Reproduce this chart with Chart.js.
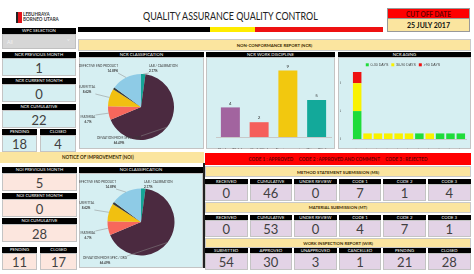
<!DOCTYPE html>
<html>
<head>
<meta charset="utf-8">
<script src="https://cdn.jsdelivr.net/npm/chart.js@4.4.0/dist/chart.umd.min.js"></script>
<style>
body { margin:0; width:474px; height:274px; background:#fff; position:relative; overflow:hidden; font-family: Lato, "Open Sans", sans-serif; }
.a { position:absolute; box-sizing:border-box; white-space:nowrap; }
.blk { background:#000; color:#fff; font-size:4.3px; text-align:center; }
.val { color:#404040; font-size:13px; text-align:center; border:1px solid #c4c4c4; }
.cy { background:#d6eff2; }
.pk { background:#fce6de; }
.lv { background:#e3d3e6; }
.yl { background:#fbe59f; border:1px solid #c9c9c9; color:#3a2a00; font-weight:bold; font-size:4.3px; text-align:center; }
canvas { position:absolute; }
</style>
</head>
<body>
<script>
// ---- data
var ncrBoxes = [1, 0, 22];          // previous month, current month, cumulative
var ncrPendClosed = [18, 4];
var noiBoxes = [5, 0, 28];
var noiPendClosed = [11, 17];

var subHeads = ["RECEIVED", "CUMULATIVE", "UNDER REVIEW", "CODE 1", "CODE 2", "CODE 3"];
var msValues = [0, 46, 0, 7, 1, 4];
var mtValues = [0, 53, 0, 4, 7, 1];
var wirHeads = ["SUBMITTED", "APPROVED", "UNAPPROVED", "CANCELLED", "PENDING", "CLOSED"];
var wirValues = [54, 30, 3, 1, 21, 28];

var classLabels = ["LAB / CALIBRATION", "DEVIATION FROM SPEC / DRG", "MATERIAL", "SUBMITTAL", "OTHERS", "DEFECTIVE END PRODUCT"];
var ncrShare = [2.17, 66.49, 6.7, 8.62, 1.13, 14.89];
var noiShare = [2.17, 66.49, 6.7, 8.62, 1.13, 14.89];

var discLabels = ["Bridge (Bdg)", "Civil (Civ)", ["Environment", "(Env)"], "Kting (Ktu)"];
var discValues = [4, 2, 9, 5];

var agingMonths = ["Sep-16", "Oct-16", "Nov-16", "Dec-16", "Jan-17", "Feb-17", "Mar-17", "Apr-17", "May-17", "Jun-17", "Jul-17"];
var aging0to30 = [5, 0, 0, 0, 0, 0, 1, 0, 1, 1, 1];
var aging30to90 = [5, 1, 1, 1, 1, 1, 0, 1, 0, 0, 0];
var agingOver90 = [2, 0, 0, 0, 0, 0, 0, 0, 0, 0, 0];

// ---- page blocks
function box(x, y, w, h, cls, txt, extra) {
    var d = document.createElement('div');
    d.className = 'a ' + cls;
    d.style.left = x + 'px'; d.style.top = y + 'px';
    d.style.width = w + 'px'; d.style.height = h + 'px';
    d.style.lineHeight = h + 'px';
    if (txt !== undefined) d.textContent = txt;
    if (extra) d.style.cssText += extra;
    document.body.appendChild(d);
    return d;
}
function fitW(el, w) {
    var s = w / el.scrollWidth;
    el.style.transformOrigin = 'left center';
    el.style.transform = 'scaleX(' + s + ')';
}

// header
box(16, 12, 2, 11, '', '', 'background:#222;');
box(18, 12, 3.5, 11, '', '', 'background:#e3141b;');
box(23, 11.5, 40, 5, '', 'LEBUHRAYA', 'font-size:4.6px;color:#333;font-weight:bold;');
box(23, 16.5, 40, 5, '', 'BORNEO UTARA', 'font-size:4.6px;color:#333;font-weight:bold;');
var t = box(143, 9, 200, 13, '', 'QUALITY ASSURANCE QUALITY CONTROL', 'font-size:11px;color:#222;width:auto;');
fitW(t, 175);
box(78, 27, 132, 4.5, '', '', 'background:#000;');
box(210, 27, 45, 4.5, '', '', 'background:#ffec00;');
box(255, 27, 128, 4.5, '', '', 'background:#ee1111;');
box(387, 8, 83, 11, '', 'CUT OFF DATE', 'background:#ff0000;color:#6a0000;font-weight:bold;font-size:6.5px;text-align:center;border:1px solid #999;');
box(387, 19, 83, 13, '', '25 JULY 2017', 'background:#fbe59f;color:#111;font-weight:bold;font-size:7px;text-align:center;border:1px solid #999;border-top:none;');

// left column NCR
box(2, 28, 74, 5.5, 'blk', 'WPC SELECTION');
box(2, 34, 74, 15, '', 'All', 'background:#d6d6d6;color:#f4f4f4;font-size:5px;padding-left:4px;border:1px solid #c0c0c0;');
box(67, 34, 8, 14, '', '\u02C5', 'color:#f4f4f4;font-size:6px;');
var ncrNames = ["NCR PREVIOUS MONTH", "NCR CURRENT MONTH", "NCR CUMULATIVE"];
var ncrTops = [52, 78, 104];
ncrTops.forEach(function(y, i) {
    box(2, y, 74, 5.5, 'blk', ncrNames[i]);
    box(2, y + 5.5, 74, 18, 'val cy', ncrBoxes[i]);
});
box(2, 129, 35, 5.5, 'blk', 'PENDING');
box(40, 129, 36, 5.5, 'blk', 'CLOSED');
box(2, 134.5, 35, 17, 'val cy', ncrPendClosed[0]);
box(40, 134.5, 36, 17, 'val cy', ncrPendClosed[1]);

// NCR section
box(78, 39, 393, 11.5, 'yl', 'NON-CONFORMANCE REPORT (NCR)');
box(79, 51.5, 125, 5.5, 'blk', 'NCR CLASSIFICATION');
box(206, 51.5, 129, 5.5, 'blk', 'NCR WORK DISCIPLINE');
box(338, 51.5, 133, 5.5, 'blk', 'NCR AGING');
box(79, 57, 125, 92, 'cy', '', 'border:1px solid #c4c4c4;');
box(206, 57, 129, 92, 'cy', '', 'border:1px solid #c4c4c4;');
box(338, 57, 133, 92, 'cy', '', 'border:1px solid #c4c4c4;');

// NOI section
box(0, 151.5, 204, 11.5, 'yl', '', 'border:none;');
box(62, 151.5, 110, 11.5, '', 'NOTICE OF IMPROVEMENT (NOI)', 'font-size:4.6px;font-weight:bold;color:#3a2a00;');
var noiNames = ["NOI PREVIOUS MONTH", "NOI CURRENT MONTH", "NOI CUMULATIVE"];
var noiTops = [167, 193, 218];
noiTops.forEach(function(y, i) {
    box(2, y, 75, 5.5, 'blk', noiNames[i]);
    box(2, y + 5.5, 75, 18, 'val pk', noiBoxes[i]);
});
box(2, 247, 35, 5.5, 'blk', 'PENDING');
box(40, 247, 37, 5.5, 'blk', 'CLOSED');
box(2, 252.5, 35, 17.5, 'val pk', noiPendClosed[0]);
box(40, 252.5, 37, 17.5, 'val pk', noiPendClosed[1]);
box(79, 167, 124, 6, 'blk', 'NOI CLASSIFICATION');
box(79, 173, 124, 95, 'cy', '', 'border:1px solid #c4c4c4;');
box(203, 163, 1.5, 105, '', '', 'background:#222;');

// submissions
box(205, 153, 266, 12, '', 'CODE 1 : APPROVED \u00A0\u00A0\u00A0 CODE 2 : APPROVED AND COMMENT \u00A0\u00A0\u00A0 CODE 3 : REJECTED',
    'background:#ff0000;color:#6a0000;font-weight:bold;font-size:4.6px;text-align:center;');
function subRow(title, yTitle, hTitle, yHead, heads, vals, yVal, hVal) {
    box(205, yTitle, 266, hTitle, 'yl', title);
    heads.forEach(function(h, i) {
        var x = 205 + i * 44.6;
        box(x, yHead, 42.5, 5, 'blk', h);
        box(x, yVal, 42.5, hVal, 'val lv', vals[i]);
    });
}
subRow('METHOD STATEMENT SUBMISSION (MS)', 166, 11, 179, subHeads, msValues, 184, 16.5);
subRow('MATERIAL SUBMISSION (MT)', 202, 10.5, 214.5, subHeads, mtValues, 219.5, 17);
subRow('WORK INSPECTION REPORT (WIR)', 238, 9.5, 248, wirHeads, wirValues, 253, 17);

// ---- charts
function canvasAt(id, x, y, w, h) {
    var c = document.createElement('canvas');
    c.id = id; c.width = w; c.height = h;
    c.style.left = x + 'px'; c.style.top = y + 'px';
    c.style.width = w + 'px'; c.style.height = h + 'px';
    document.body.appendChild(c);
    return c;
}

var pieLabels = {
    id: 'pieLabels',
    afterDatasetsDraw: function(chart, args, opts) {
        var ctx = chart.ctx, meta = chart.getDatasetMeta(0);
        var data = chart.data.datasets[0].data;
        ctx.save();
        ctx.font = '3.1px Lato';
        meta.data.forEach(function(arc, i) {
            var p = opts.place[i];
            if (!p) return;
            var pr = arc.getProps(['x', 'y', 'outerRadius', 'startAngle', 'endAngle'], true);
            var mid = (pr.startAngle + pr.endAngle) / 2;
            var ex = pr.x + Math.cos(mid) * pr.outerRadius, ey = pr.y + Math.sin(mid) * pr.outerRadius;
            var l1 = chart.data.labels[i], l2 = data[i] + '%';
            ctx.font = '3.1px Lato';
            var w = Math.max(ctx.measureText(l1).width, ctx.measureText(l2).width);
            var tx = pr.x + p[0], ty = pr.y + p[1];
            var left = p[2] == 'left' ? tx : (p[2] == 'right' ? tx - w : tx - w / 2);
            var top = ty - 2, bot = ty + 7;
            var cx = Math.min(Math.max(ex, left), left + w), cyy = Math.min(Math.max(ey, top), bot);
            ctx.strokeStyle = '#8a8a8a'; ctx.lineWidth = 0.5;
            ctx.beginPath(); ctx.moveTo(cx, cyy); ctx.lineTo(ex, ey); ctx.stroke();
            ctx.fillStyle = '#3a3a3a';
            ctx.textAlign = p[2]; ctx.textBaseline = 'middle';
            ctx.fillText(l1, tx, ty);
            ctx.font = 'bold 3.1px Lato';
            ctx.fillText(l2, tx, ty + 5);
        });
        ctx.restore();
    }
};

var sliceColors = ['#15a596', '#4b2a40', '#f7675c', '#f1c010', '#3a3a3a', '#8ecbe6'];
var placeNcr = [[8, -41, 'left'], [-22, 31, 'center'], [-53, 10, 'center'], [-54, -20, 'center'], null, [-23, -41, 'right']];
var placeNoi = [[3, -40, 'left'], [-36, 36, 'center'], [-53, 11, 'center'], [-55, -19, 'center'], null, [-25, -40, 'right']];

function pie(id, x, y, w, h, pad, values, place) {
    new Chart(canvasAt(id, x, y, w, h), {
        type: 'pie',
        data: { labels: classLabels, datasets: [{ data: values, backgroundColor: sliceColors, borderWidth: 0 }] },
        options: {
            responsive: false, animation: false,
            layout: { padding: pad },
            plugins: { legend: { display: false }, tooltip: { enabled: false }, pieLabels: { place: place } }
        },
        plugins: [pieLabels]
    });
}
pie('ncrPie', 79, 57, 125, 92, { top: 17, bottom: 9, left: 29, right: 30 }, ncrShare, placeNcr);
pie('noiPie', 79, 173, 124, 95, { top: 15, bottom: 12, left: 28.5, right: 28.5 }, noiShare, placeNoi);

var valueLabels = {
    id: 'valueLabels',
    afterDatasetsDraw: function(chart) {
        var ctx = chart.ctx;
        ctx.save();
        ctx.font = '4.5px Lato'; ctx.fillStyle = '#333';
        ctx.textAlign = 'center'; ctx.textBaseline = 'bottom';
        chart.getDatasetMeta(0).data.forEach(function(bar, i) {
            ctx.fillText(chart.data.datasets[0].data[i], bar.x, bar.y - 2);
        });
        ctx.restore();
    }
};

new Chart(canvasAt('disc', 206, 57, 129, 92), {
    type: 'bar',
    data: { labels: discLabels, datasets: [{ data: discValues, backgroundColor: ['#a2649f', '#f55f5b', '#f2c80f', '#13a99a'], barPercentage: 0.66, categoryPercentage: 1 }] },
    options: {
        responsive: false, animation: false,
        layout: { padding: { top: 6, left: 2, right: 4, bottom: 0 } },
        plugins: { legend: { display: false }, tooltip: { enabled: false } },
        scales: {
            x: { grid: { display: false }, border: { color: '#c8c8c8' },
                 ticks: { font: { size: 4.3 }, color: '#444', padding: 2, maxRotation: 0, autoSkip: false },
                 afterFit: function(s) { s.height = 12; } },
            y: { min: 0, max: 10, grid: { display: false }, border: { display: false },
                 ticks: { stepSize: 2, font: { size: 4.3 }, color: '#444', padding: 3 },
                 afterFit: function(s) { s.width = 8; } }
        }
    },
    plugins: [valueLabels]
});

new Chart(canvasAt('aging', 338, 57, 133, 92), {
    type: 'bar',
    data: {
        labels: agingMonths,
        datasets: [
            { label: '0-30 DAYS', data: aging0to30, backgroundColor: '#1fdc3a' },
            { label: '30-90 DAYS', data: aging30to90, backgroundColor: '#f9f200' },
            { label: '>90 DAYS', data: agingOver90, backgroundColor: '#ee1111' }
        ]
    },
    options: {
        responsive: false, animation: false,
        datasets: { bar: { barPercentage: 0.82, categoryPercentage: 1 } },
        layout: { padding: { top: 3, left: 2, right: 5, bottom: 0 } },
        plugins: {
            tooltip: { enabled: false },
            legend: { position: 'top', maxHeight: 12, labels: { boxWidth: 3, boxHeight: 3, font: { size: 3.6 }, color: '#444', padding: 3 } }
        },
        scales: {
            x: { stacked: true, grid: { display: false }, border: { color: '#c8c8c8' },
                 ticks: { font: { size: 3.3 }, color: '#555', minRotation: 45, maxRotation: 45, autoSkip: false, padding: 1 },
                 afterFit: function(s) { s.height = 10; } },
            y: { stacked: true, min: 0, max: 12, grid: { display: false }, border: { display: false },
                 ticks: { stepSize: 5, includeBounds: false, font: { size: 4 }, color: '#444', padding: 3 },
                 afterFit: function(s) { s.width = 12; } }
        }
    }
});
</script>
</body>
</html>
